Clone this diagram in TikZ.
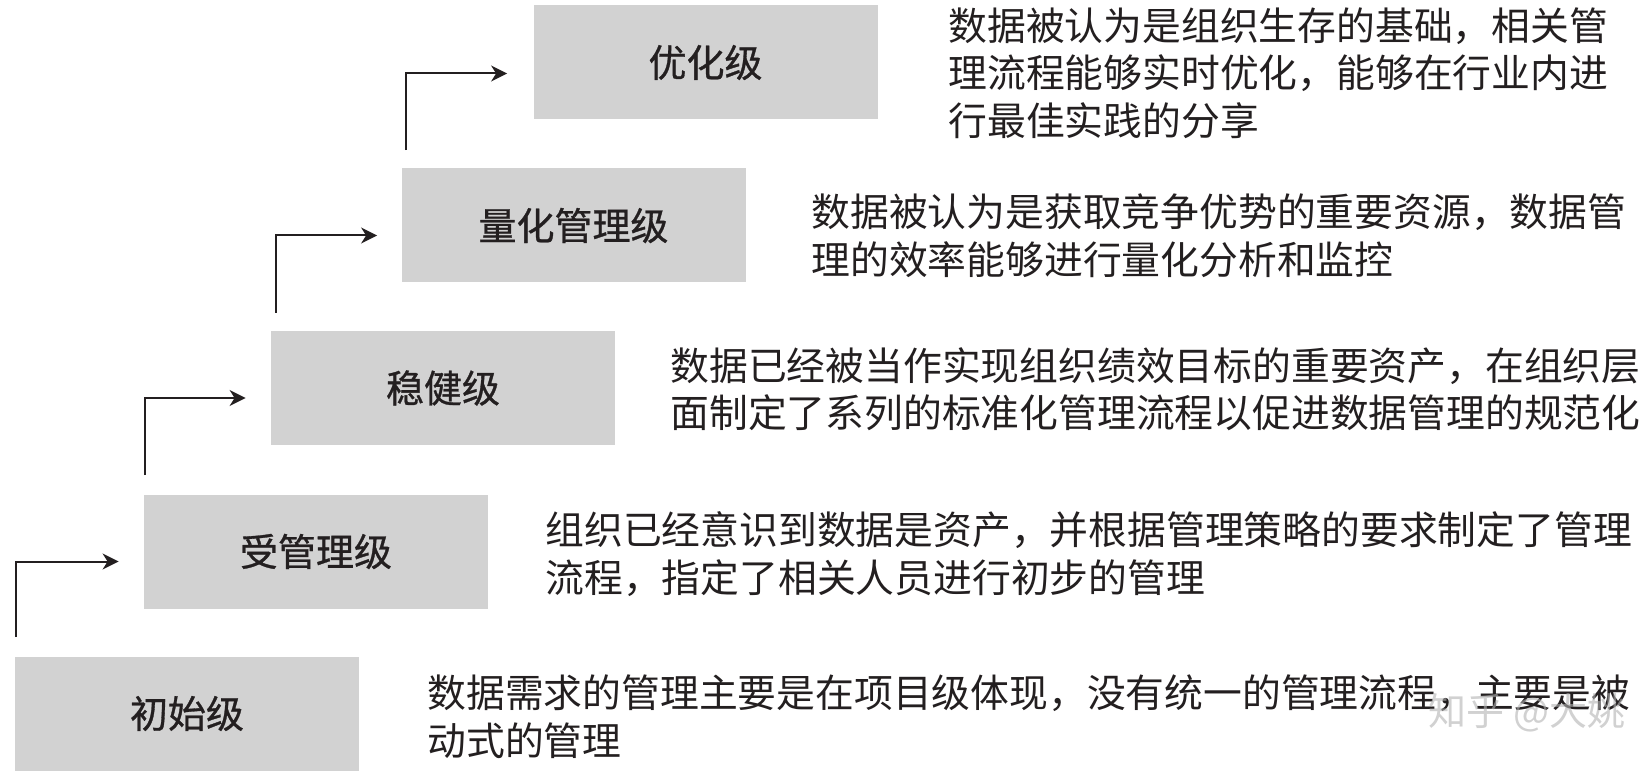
\documentclass[tikz,border=0pt]{standalone}
\usepackage{fontspec}
\newfontfamily\cjk{Noto Sans CJK SC}
\newfontfamily\cjklabel[FakeBold=0.8]{Noto Sans CJK SC}
\usetikzlibrary{arrows.meta,calc}
\definecolor{boxgray}{RGB}{210,210,210}
\definecolor{ink}{RGB}{35,31,32}
\begin{document}
\begin{tikzpicture}[x=0.5pt,y=-0.5pt,
  level/.style={fill=boxgray, minimum width=172pt, minimum height=57pt, inner sep=0pt,
    font=\cjklabel\fontsize{19}{23}\selectfont, text=ink},
  desc/.style={anchor=west, align=left, inner sep=0pt,
    font=\cjk\fontsize{19.4}{23.75}\selectfont, text=ink},
  link/.style={draw=ink, line width=1pt, -{Stealth[length=8pt,width=8pt,inset=2.5pt]}},
  wm/.style={text=gray!60, opacity=0.6, inner sep=0pt, font=\cjk\fontsize{19}{23}\selectfont}
]
\useasboundingbox (0,0) rectangle (1652,774);
% levels
\node[level] (l1) at (187,713.5) {初始级};
\node[level] (l2) at (316,551.5) {受管理级};
\node[level] (l3) at (443,388) {稳健级};
\node[level] (l4) at (573.5,225.5) {量化管理级};
\node[level] (l5) at (705.5,62.5) {优化级};
% connectors
\draw[link] ($(l1.north west)+(1,-19)$) |- ($(l2.west)+(-25,10)$);
\draw[link] ($(l2.north west)+(1,-19)$) |- ($(l3.west)+(-25,10)$);
\draw[link] ($(l3.north west)+(5,-18)$) |- ($(l4.west)+(-24,10)$);
\draw[link] ($(l4.north west)+(5,-18)$) |- ($(l5.west)+(-26,11)$);
% descriptions
\node[desc] (d1) at (427,716.5) {数据需求的管理主要是在项目级体现，没有统一的管理流程，主要是被\\动式的管理};
\node[desc] (d2) at (545,554) {组织已经意识到数据是资产，并根据管理策略的要求制定了管理\\流程，指定了相关人员进行初步的管理};
\node[desc] (d3) at (670,389) {数据已经被当作实现组织绩效目标的重要资产，在组织层\\面制定了系列的标准化管理流程以促进数据管理的规范化};
\node[desc] (d4) at (811,235.5) {数据被认为是获取竞争优势的重要资源，数据管\\理的效率能够进行量化分析和监控};
\node[desc] (d5) at (948,73) {数据被认为是组织生存的基础，相关管\\理流程能够实时优化，能够在行业内进\\行最佳实践的分享};
% watermark
\node[wm] (wm) at (1527,713) {知乎 @大姚};
\end{tikzpicture}
\end{document}
